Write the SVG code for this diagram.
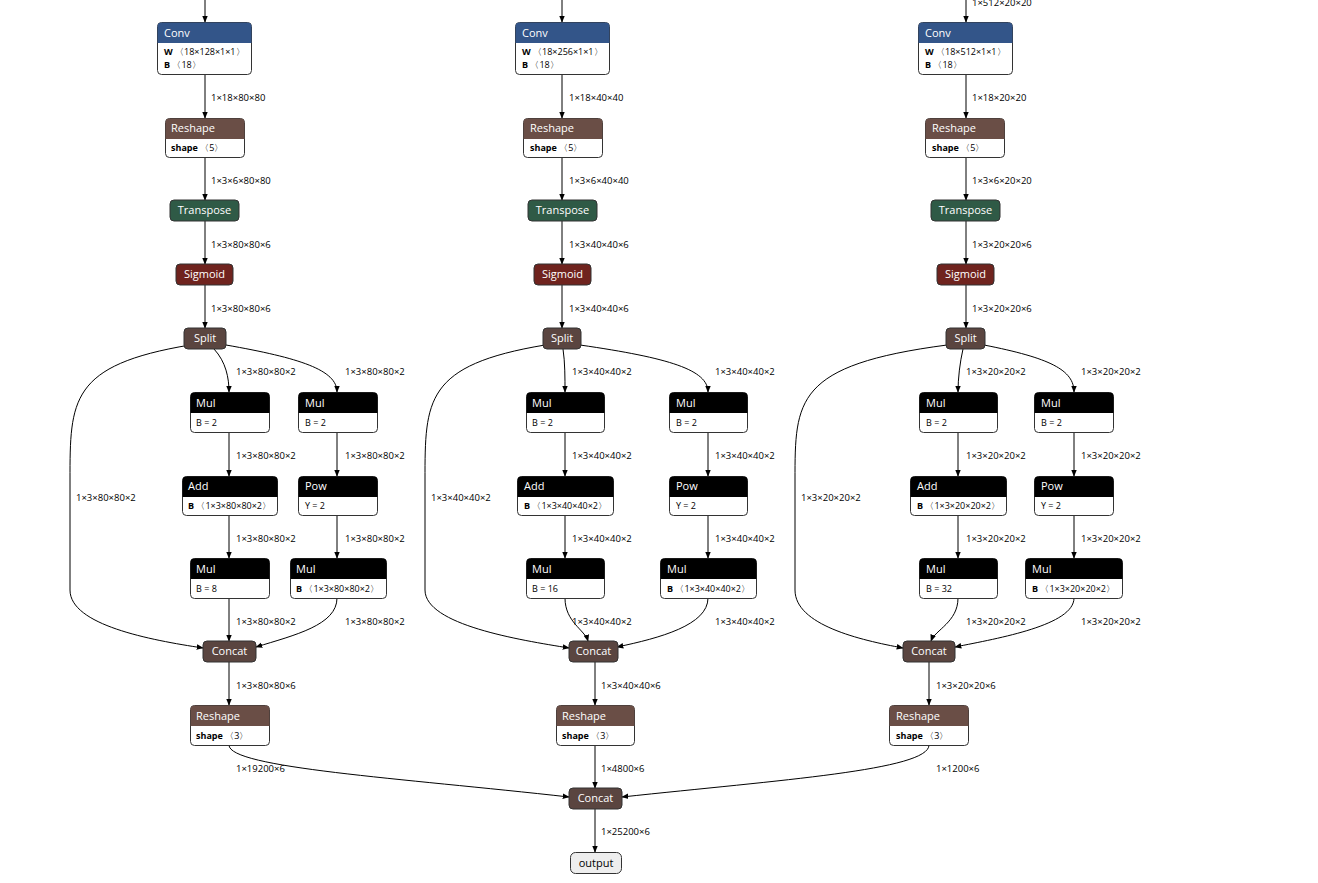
<svg xmlns="http://www.w3.org/2000/svg" width="1318" height="883" viewBox="0 0 1318 883">
<defs>
<marker id="ah" viewBox="0 0 10 10" refX="9" refY="5" markerWidth="7" markerHeight="7" orient="auto"><path d="M0,1 L10,5 L0,9 z" fill="#000"/></marker>
<style>
text{font-family:"Open Sans","DejaVu Sans",sans-serif}
.e{fill:none;stroke:#000;stroke-width:1;marker-end:url(#ah)}
.l{font-size:9.5px;fill:#000}
.h{font-size:11px;fill:#fff}
.a{font-size:9px;fill:#000}
.b{font-weight:bold}
.box{fill:#fff;stroke:#333;stroke-width:1}
.conv{fill:#335589}.resh{fill:#6a4e46}.tr{fill:#2f5a46}.sig{fill:#6f231e}.sp{fill:#5a4540}.blk{fill:#000}
.out{fill:#eee;stroke:#333}
</style>
</defs>
<rect width="1318" height="883" fill="#fff"/>
<g id="edges">
<!-- column 1 -->
<path class="e" d="M205,0 V22"/>
<path class="e" d="M205,75 V118"/><text class="l" x="211" y="101">1×18×80×80</text>
<path class="e" d="M205,157 V200"/><text class="l" x="211" y="184">1×3×6×80×80</text>
<path class="e" d="M205,221 V264"/><text class="l" x="211" y="248">1×3×80×80×6</text>
<path class="e" d="M205,285 V328"/><text class="l" x="211" y="312">1×3×80×80×6</text>
<path class="e" d="M190,345 C70,365 70,400 70,480 L70,590 C70,625 150,640 203,648"/><text class="l" x="76" y="501">1×3×80×80×2</text>
<path class="e" d="M214,349 C226,362 229,378 229,392"/><text class="l" x="236" y="375">1×3×80×80×2</text>
<path class="e" d="M226,345 C300,358 337,370 337,392"/><text class="l" x="345" y="375">1×3×80×80×2</text>
<path class="e" d="M229,432 V476"/><text class="l" x="236" y="459">1×3×80×80×2</text>
<path class="e" d="M337,432 V476"/><text class="l" x="345" y="459">1×3×80×80×2</text>
<path class="e" d="M229,515 V558"/><text class="l" x="236" y="542">1×3×80×80×2</text>
<path class="e" d="M337,515 V558"/><text class="l" x="345" y="542">1×3×80×80×2</text>
<path class="e" d="M229,598 V641"/><text class="l" x="236" y="625">1×3×80×80×2</text>
<path class="e" d="M337,598 C337,625 295,635 256,647"/><text class="l" x="345" y="625">1×3×80×80×2</text>
<path class="e" d="M229,662 V705"/><text class="l" x="236" y="689">1×3×80×80×6</text>
<path class="e" d="M229,745 C229,768 400,778 569,797"/><text class="l" x="236" y="772">1×19200×6</text>
<!-- column 2 -->
<path class="e" d="M562,0 V22"/>
<path class="e" d="M562,75 V118"/><text class="l" x="569" y="101">1×18×40×40</text>
<path class="e" d="M562,157 V200"/><text class="l" x="569" y="184">1×3×6×40×40</text>
<path class="e" d="M562,221 V264"/><text class="l" x="569" y="248">1×3×40×40×6</text>
<path class="e" d="M562,285 V328"/><text class="l" x="569" y="312">1×3×40×40×6</text>
<path class="e" d="M545,345 C425,365 425,400 425,480 L425,590 C425,625 520,640 569,648"/><text class="l" x="431" y="501">1×3×40×40×2</text>
<path class="e" d="M563,349 C565,362 565,378 565,392"/><text class="l" x="572" y="375">1×3×40×40×2</text>
<path class="e" d="M580,345 C670,358 708,370 708,392"/><text class="l" x="715" y="375">1×3×40×40×2</text>
<path class="e" d="M565,432 V476"/><text class="l" x="572" y="459">1×3×40×40×2</text>
<path class="e" d="M708,432 V476"/><text class="l" x="715" y="459">1×3×40×40×2</text>
<path class="e" d="M565,515 V558"/><text class="l" x="572" y="542">1×3×40×40×2</text>
<path class="e" d="M708,515 V558"/><text class="l" x="715" y="542">1×3×40×40×2</text>
<path class="e" d="M565,598 C565,622 585,630 588,641"/><text class="l" x="572" y="625">1×3×40×40×2</text>
<path class="e" d="M708,598 C708,625 660,638 617,647"/><text class="l" x="715" y="625">1×3×40×40×2</text>
<path class="e" d="M595,662 V705"/><text class="l" x="601" y="689">1×3×40×40×6</text>
<path class="e" d="M595,745 V788"/><text class="l" x="601" y="772">1×4800×6</text>
<!-- column 3 -->
<path class="e" d="M966,0 V22"/><text class="l" x="972" y="6">1×512×20×20</text>
<path class="e" d="M966,75 V118"/><text class="l" x="972" y="101">1×18×20×20</text>
<path class="e" d="M966,157 V200"/><text class="l" x="972" y="184">1×3×6×20×20</text>
<path class="e" d="M966,221 V264"/><text class="l" x="972" y="248">1×3×20×20×6</text>
<path class="e" d="M966,285 V328"/><text class="l" x="972" y="312">1×3×20×20×6</text>
<path class="e" d="M947,345 C795,365 795,400 795,480 L795,590 C795,625 860,640 903,648"/><text class="l" x="801" y="501">1×3×20×20×2</text>
<path class="e" d="M963,349 C960,362 958,378 958,392"/><text class="l" x="966" y="375">1×3×20×20×2</text>
<path class="e" d="M984,345 C1050,358 1074,370 1074,392"/><text class="l" x="1081" y="375">1×3×20×20×2</text>
<path class="e" d="M958,432 V476"/><text class="l" x="966" y="459">1×3×20×20×2</text>
<path class="e" d="M1074,432 V476"/><text class="l" x="1081" y="459">1×3×20×20×2</text>
<path class="e" d="M958,515 V558"/><text class="l" x="966" y="542">1×3×20×20×2</text>
<path class="e" d="M1074,515 V558"/><text class="l" x="1081" y="542">1×3×20×20×2</text>
<path class="e" d="M958,598 C958,622 935,630 931,641"/><text class="l" x="966" y="625">1×3×20×20×2</text>
<path class="e" d="M1074,598 C1074,625 1000,638 955,647"/><text class="l" x="1081" y="625">1×3×20×20×2</text>
<path class="e" d="M929,662 V705"/><text class="l" x="936" y="689">1×3×20×20×6</text>
<path class="e" d="M929,745 C929,770 780,780 622,797"/><text class="l" x="936" y="772">1×1200×6</text>
<path class="e" d="M595,809 V852"/><text class="l" x="601" y="835">1×25200×6</text>
</g>
<!-- column 1 nodes -->
<g id="conv1"><rect class="box" x="157.5" y="22.5" width="94" height="52" rx="4"/><path class="conv" d="M157.5,43 V26.5 Q157.5,22.5 161.5,22.5 H247.5 Q251.5,22.5 251.5,26.5 V43 Z"/><text class="h" x="164" y="37">Conv</text><text class="a" x="164" y="55"><tspan class="b">W</tspan> 〈18×128×1×1〉</text><text class="a" x="164" y="68"><tspan class="b">B</tspan> 〈18〉</text></g>
<g id="reshape1"><rect class="box" x="165.5" y="118.5" width="79" height="39" rx="4"/><path class="resh" d="M165.5,139 V122.5 Q165.5,118.5 169.5,118.5 H240.5 Q244.5,118.5 244.5,122.5 V139 Z"/><text class="h" x="171" y="132">Reshape</text><text class="a" x="171" y="151"><tspan class="b">shape</tspan> 〈5〉</text></g>
<g id="transpose1"><rect class="tr" x="170" y="200" width="69" height="21" rx="4" stroke="#333"/><text class="h" x="204.5" y="214" text-anchor="middle">Transpose</text></g>
<g id="sigmoid1"><rect class="sig" x="176" y="264" width="57" height="21" rx="4" stroke="#333"/><text class="h" x="204.5" y="278" text-anchor="middle">Sigmoid</text></g>
<g id="split1"><rect class="sp" x="184" y="328" width="42" height="21" rx="4" stroke="#333"/><text class="h" x="205" y="342" text-anchor="middle">Split</text></g>
<g id="mul1a"><rect class="box" x="190.5" y="392.5" width="79" height="40" rx="4"/><path class="blk" d="M190.5,413 V396.5 Q190.5,392.5 194.5,392.5 H265.5 Q269.5,392.5 269.5,396.5 V413 Z"/><text class="h" x="196" y="407">Mul</text><text class="a" x="196" y="426">B = 2</text></g>
<g id="mul1b"><rect class="box" x="298.5" y="392.5" width="79" height="40" rx="4"/><path class="blk" d="M298.5,413 V396.5 Q298.5,392.5 302.5,392.5 H373.5 Q377.5,392.5 377.5,396.5 V413 Z"/><text class="h" x="305" y="407">Mul</text><text class="a" x="305" y="426">B = 2</text></g>
<g id="add1"><rect class="box" x="182.5" y="476.5" width="95" height="39" rx="4"/><path class="blk" d="M182.5,497 V480.5 Q182.5,476.5 186.5,476.5 H273.5 Q277.5,476.5 277.5,480.5 V497 Z"/><text class="h" x="188" y="490">Add</text><text class="a" x="188" y="509"><tspan class="b">B</tspan> 〈1×3×80×80×2〉</text></g>
<g id="pow1"><rect class="box" x="298.5" y="476.5" width="79" height="39" rx="4"/><path class="blk" d="M298.5,497 V480.5 Q298.5,476.5 302.5,476.5 H373.5 Q377.5,476.5 377.5,480.5 V497 Z"/><text class="h" x="305" y="490">Pow</text><text class="a" x="305" y="509">Y = 2</text></g>
<g id="mul1c"><rect class="box" x="190.5" y="558.5" width="79" height="40" rx="4"/><path class="blk" d="M190.5,579 V562.5 Q190.5,558.5 194.5,558.5 H265.5 Q269.5,558.5 269.5,562.5 V579 Z"/><text class="h" x="196" y="573">Mul</text><text class="a" x="196" y="592">B = 8</text></g>
<g id="mul1d"><rect class="box" x="290.5" y="558.5" width="96" height="40" rx="4"/><path class="blk" d="M290.5,579 V562.5 Q290.5,558.5 294.5,558.5 H382.5 Q386.5,558.5 386.5,562.5 V579 Z"/><text class="h" x="296" y="573">Mul</text><text class="a" x="296" y="592"><tspan class="b">B</tspan> 〈1×3×80×80×2〉</text></g>
<g id="concat1"><rect class="sp" x="203" y="641" width="53" height="21" rx="4" stroke="#333"/><text class="h" x="229.5" y="655" text-anchor="middle">Concat</text></g>
<g id="reshape1b"><rect class="box" x="190.5" y="705.5" width="79" height="40" rx="4"/><path class="resh" d="M190.5,726 V709.5 Q190.5,705.5 194.5,705.5 H265.5 Q269.5,705.5 269.5,709.5 V726 Z"/><text class="h" x="196" y="720">Reshape</text><text class="a" x="196" y="739"><tspan class="b">shape</tspan> 〈3〉</text></g>
<!-- column 2 nodes -->
<g id="conv2"><rect class="box" x="515.5" y="22.5" width="94" height="52" rx="4"/><path class="conv" d="M515.5,43 V26.5 Q515.5,22.5 519.5,22.5 H605.5 Q609.5,22.5 609.5,26.5 V43 Z"/><text class="h" x="522" y="37">Conv</text><text class="a" x="522" y="55"><tspan class="b">W</tspan> 〈18×256×1×1〉</text><text class="a" x="522" y="68"><tspan class="b">B</tspan> 〈18〉</text></g>
<g id="reshape2"><rect class="box" x="523.5" y="118.5" width="79" height="39" rx="4"/><path class="resh" d="M523.5,139 V122.5 Q523.5,118.5 527.5,118.5 H598.5 Q602.5,118.5 602.5,122.5 V139 Z"/><text class="h" x="530" y="132">Reshape</text><text class="a" x="530" y="151"><tspan class="b">shape</tspan> 〈5〉</text></g>
<g id="transpose2"><rect class="tr" x="528" y="200" width="69" height="21" rx="4" stroke="#333"/><text class="h" x="562.5" y="214" text-anchor="middle">Transpose</text></g>
<g id="sigmoid2"><rect class="sig" x="534" y="264" width="57" height="21" rx="4" stroke="#333"/><text class="h" x="562.5" y="278" text-anchor="middle">Sigmoid</text></g>
<g id="split2"><rect class="sp" x="543" y="328" width="38" height="21" rx="4" stroke="#333"/><text class="h" x="562" y="342" text-anchor="middle">Split</text></g>
<g id="mul2a"><rect class="box" x="526.5" y="392.5" width="78" height="40" rx="4"/><path class="blk" d="M526.5,413 V396.5 Q526.5,392.5 530.5,392.5 H600.5 Q604.5,392.5 604.5,396.5 V413 Z"/><text class="h" x="532" y="407">Mul</text><text class="a" x="532" y="426">B = 2</text></g>
<g id="mul2b"><rect class="box" x="669.5" y="392.5" width="78" height="40" rx="4"/><path class="blk" d="M669.5,413 V396.5 Q669.5,392.5 673.5,392.5 H743.5 Q747.5,392.5 747.5,396.5 V413 Z"/><text class="h" x="676" y="407">Mul</text><text class="a" x="676" y="426">B = 2</text></g>
<g id="add2"><rect class="box" x="517.5" y="476.5" width="96" height="39" rx="4"/><path class="blk" d="M517.5,497 V480.5 Q517.5,476.5 521.5,476.5 H609.5 Q613.5,476.5 613.5,480.5 V497 Z"/><text class="h" x="524" y="490">Add</text><text class="a" x="524" y="509"><tspan class="b">B</tspan> 〈1×3×40×40×2〉</text></g>
<g id="pow2"><rect class="box" x="669.5" y="476.5" width="78" height="39" rx="4"/><path class="blk" d="M669.5,497 V480.5 Q669.5,476.5 673.5,476.5 H743.5 Q747.5,476.5 747.5,480.5 V497 Z"/><text class="h" x="676" y="490">Pow</text><text class="a" x="676" y="509">Y = 2</text></g>
<g id="mul2c"><rect class="box" x="526.5" y="558.5" width="78" height="40" rx="4"/><path class="blk" d="M526.5,579 V562.5 Q526.5,558.5 530.5,558.5 H600.5 Q604.5,558.5 604.5,562.5 V579 Z"/><text class="h" x="532" y="573">Mul</text><text class="a" x="532" y="592">B = 16</text></g>
<g id="mul2d"><rect class="box" x="660.5" y="558.5" width="96" height="40" rx="4"/><path class="blk" d="M660.5,579 V562.5 Q660.5,558.5 664.5,558.5 H752.5 Q756.5,558.5 756.5,562.5 V579 Z"/><text class="h" x="667" y="573">Mul</text><text class="a" x="667" y="592"><tspan class="b">B</tspan> 〈1×3×40×40×2〉</text></g>
<g id="concat2"><rect class="sp" x="569" y="641" width="49" height="21" rx="4" stroke="#333"/><text class="h" x="593.5" y="655" text-anchor="middle">Concat</text></g>
<g id="reshape2b"><rect class="box" x="556.5" y="705.5" width="78" height="40" rx="4"/><path class="resh" d="M556.5,726 V709.5 Q556.5,705.5 560.5,705.5 H630.5 Q634.5,705.5 634.5,709.5 V726 Z"/><text class="h" x="562" y="720">Reshape</text><text class="a" x="562" y="739"><tspan class="b">shape</tspan> 〈3〉</text></g>
<!-- column 3 nodes -->
<g id="conv3"><rect class="box" x="918.5" y="22.5" width="94" height="52" rx="4"/><path class="conv" d="M918.5,43 V26.5 Q918.5,22.5 922.5,22.5 H1008.5 Q1012.5,22.5 1012.5,26.5 V43 Z"/><text class="h" x="925" y="37">Conv</text><text class="a" x="925" y="55"><tspan class="b">W</tspan> 〈18×512×1×1〉</text><text class="a" x="925" y="68"><tspan class="b">B</tspan> 〈18〉</text></g>
<g id="reshape3"><rect class="box" x="925.5" y="118.5" width="79" height="39" rx="4"/><path class="resh" d="M925.5,139 V122.5 Q925.5,118.5 929.5,118.5 H1000.5 Q1004.5,118.5 1004.5,122.5 V139 Z"/><text class="h" x="932" y="132">Reshape</text><text class="a" x="932" y="151"><tspan class="b">shape</tspan> 〈5〉</text></g>
<g id="transpose3"><rect class="tr" x="931" y="200" width="69" height="21" rx="4" stroke="#333"/><text class="h" x="965.5" y="214" text-anchor="middle">Transpose</text></g>
<g id="sigmoid3"><rect class="sig" x="937" y="264" width="57" height="21" rx="4" stroke="#333"/><text class="h" x="965.5" y="278" text-anchor="middle">Sigmoid</text></g>
<g id="split3"><rect class="sp" x="946" y="328" width="39" height="21" rx="4" stroke="#333"/><text class="h" x="965.5" y="342" text-anchor="middle">Split</text></g>
<g id="mul3a"><rect class="box" x="919.5" y="392.5" width="78" height="40" rx="4"/><path class="blk" d="M919.5,413 V396.5 Q919.5,392.5 923.5,392.5 H993.5 Q997.5,392.5 997.5,396.5 V413 Z"/><text class="h" x="926" y="407">Mul</text><text class="a" x="926" y="426">B = 2</text></g>
<g id="mul3b"><rect class="box" x="1034.5" y="392.5" width="79" height="40" rx="4"/><path class="blk" d="M1034.5,413 V396.5 Q1034.5,392.5 1038.5,392.5 H1109.5 Q1113.5,392.5 1113.5,396.5 V413 Z"/><text class="h" x="1041" y="407">Mul</text><text class="a" x="1041" y="426">B = 2</text></g>
<g id="add3"><rect class="box" x="910.5" y="476.5" width="96" height="39" rx="4"/><path class="blk" d="M910.5,497 V480.5 Q910.5,476.5 914.5,476.5 H1002.5 Q1006.5,476.5 1006.5,480.5 V497 Z"/><text class="h" x="917" y="490">Add</text><text class="a" x="917" y="509"><tspan class="b">B</tspan> 〈1×3×20×20×2〉</text></g>
<g id="pow3"><rect class="box" x="1034.5" y="476.5" width="79" height="39" rx="4"/><path class="blk" d="M1034.5,497 V480.5 Q1034.5,476.5 1038.5,476.5 H1109.5 Q1113.5,476.5 1113.5,480.5 V497 Z"/><text class="h" x="1041" y="490">Pow</text><text class="a" x="1041" y="509">Y = 2</text></g>
<g id="mul3c"><rect class="box" x="919.5" y="558.5" width="78" height="40" rx="4"/><path class="blk" d="M919.5,579 V562.5 Q919.5,558.5 923.5,558.5 H993.5 Q997.5,558.5 997.5,562.5 V579 Z"/><text class="h" x="926" y="573">Mul</text><text class="a" x="926" y="592">B = 32</text></g>
<g id="mul3d"><rect class="box" x="1025.5" y="558.5" width="97" height="40" rx="4"/><path class="blk" d="M1025.5,579 V562.5 Q1025.5,558.5 1029.5,558.5 H1118.5 Q1122.5,558.5 1122.5,562.5 V579 Z"/><text class="h" x="1032" y="573">Mul</text><text class="a" x="1032" y="592"><tspan class="b">B</tspan> 〈1×3×20×20×2〉</text></g>
<g id="concat3"><rect class="sp" x="903" y="641" width="52" height="21" rx="4" stroke="#333"/><text class="h" x="929" y="655" text-anchor="middle">Concat</text></g>
<g id="reshape3b"><rect class="box" x="889.5" y="705.5" width="79" height="40" rx="4"/><path class="resh" d="M889.5,726 V709.5 Q889.5,705.5 893.5,705.5 H964.5 Q968.5,705.5 968.5,709.5 V726 Z"/><text class="h" x="896" y="720">Reshape</text><text class="a" x="896" y="739"><tspan class="b">shape</tspan> 〈3〉</text></g>
<!-- final -->
<g id="concat_final"><rect class="sp" x="569" y="788" width="53" height="21" rx="4" stroke="#333"/><text class="h" x="595.5" y="802" text-anchor="middle">Concat</text></g>
<g id="output"><rect class="out" x="570.5" y="852.5" width="51" height="21" rx="5"/><text x="596" y="867" text-anchor="middle" style="font-size:11px" fill="#000">output</text></g>
</svg>
